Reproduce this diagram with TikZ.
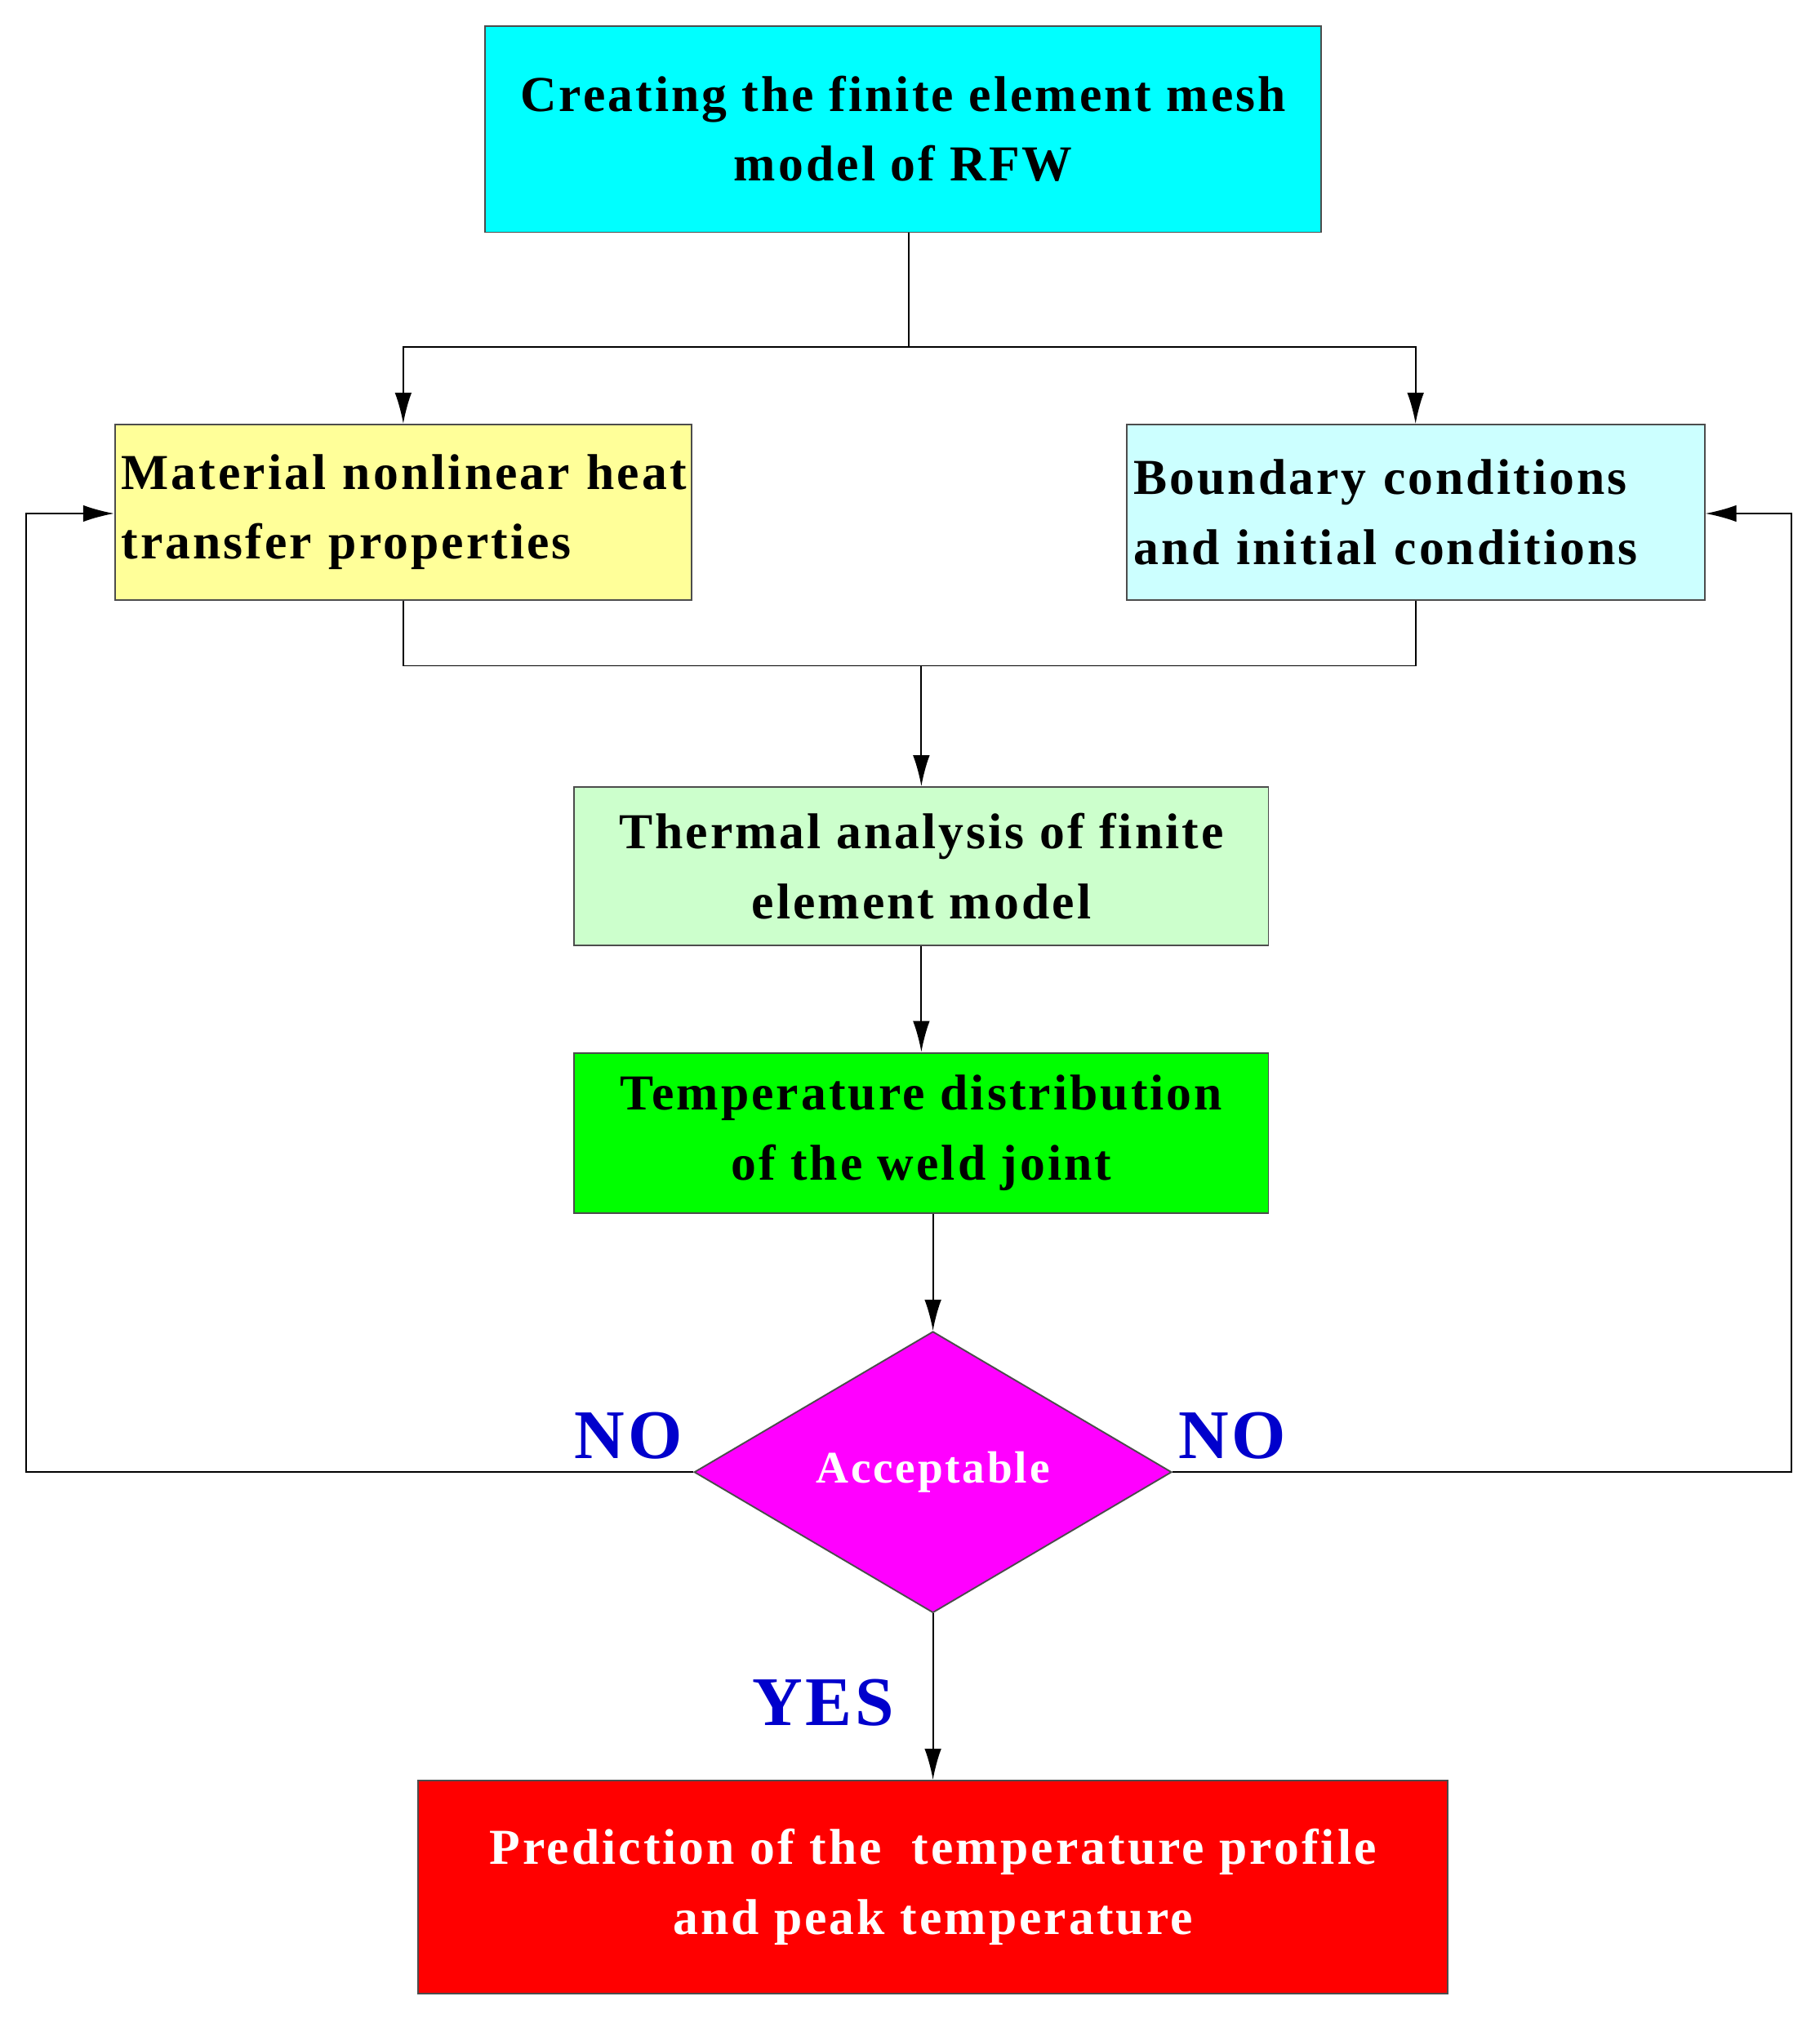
\documentclass[tikz,border=0pt]{standalone}
\usepackage{fontspec}
\setmainfont{Liberation Serif}[LetterSpace=5]
\usetikzlibrary{shapes.geometric,arrows.meta}
\begin{document}
\begin{tikzpicture}[x=1pt,y=-1pt,
  box/.style={draw=black!70,line width=1.2pt,inner sep=0pt,font=\fontsize{39}{54}\selectfont\bfseries,align=center},
  lbl/.style={text=blue!80!black,font=\fontsize{54}{54}\selectfont\bfseries},
  conn/.style={line width=1.2pt},
  arr/.style={conn,-{Latex[length=24pt,width=13pt]}}]
\useasboundingbox (0,0) rectangle (1410,1568);
\node[box,fill={rgb,255:red,0;green,255;blue,255},minimum width=648pt,minimum height=160pt] (top) at (700,100) {Creating the finite element mesh\\model of RFW};
\node[box,fill={rgb,255:red,255;green,255;blue,153},minimum width=447pt,minimum height=136pt,align=left,text width=437pt] (mat) at (312.5,397) {Material nonlinear heat\\transfer properties};
\node[box,fill={rgb,255:red,204;green,255;blue,255},minimum width=448pt,minimum height=136pt,align=left,text width=437pt] (bnd) at (1097,397) {Boundary conditions\\and initial conditions};
\node[box,fill={rgb,255:red,204;green,255;blue,204},minimum width=538pt,minimum height=123pt] (th) at (714,671.5) {Thermal analysis of finite\\element model};
\node[box,fill={rgb,255:red,0;green,255;blue,0},minimum width=538pt,minimum height=124pt] (tmp) at (714,878) {Temperature distribution\\of the weld joint};
\node[diamond,draw=black!70,line width=1.2pt,fill={rgb,255:red,255;green,0;blue,255},minimum width=370pt,minimum height=218pt,inner sep=0pt,text=white,font=\fontsize{35}{40}\selectfont\bfseries] (acc) at (723,1141) {Acceptable};
\node[box,fill={rgb,255:red,255;green,0;blue,0},text=white,minimum width=798pt,minimum height=165pt] (pred) at (723,1462.5) {Prediction of the \ temperature profile\\and peak temperature};
\coordinate (j1) at (704,269);
\coordinate (j2) at (714,516);
\coordinate (lc) at (20,398);
\coordinate (rc) at (1388,398);
\draw[conn] (top.south -| j1) -- (j1);
\draw[arr] (j1) -| (mat.north);
\draw[arr] (j1) -| (bnd.north);
\draw[conn] (mat.south) |- (j2) -| (bnd.south);
\draw[arr] (j2) -- (th.north);
\draw[arr] (th) -- (tmp);
\draw[arr] (tmp.south -| acc.north) -- (acc.north);
\draw[arr] (acc.west) -| (lc) -- (mat.west |- lc);
\draw[arr] (acc.east) -| (rc) -- (bnd.east |- rc);
\draw[arr] (acc.south) -- (pred.north);
\node[lbl] (no1) at (487,1113) {NO};
\node[lbl] (no2) at (955,1113) {NO};
\node[lbl] (yes) at (638,1320) {YES};
\end{tikzpicture}
\end{document}
